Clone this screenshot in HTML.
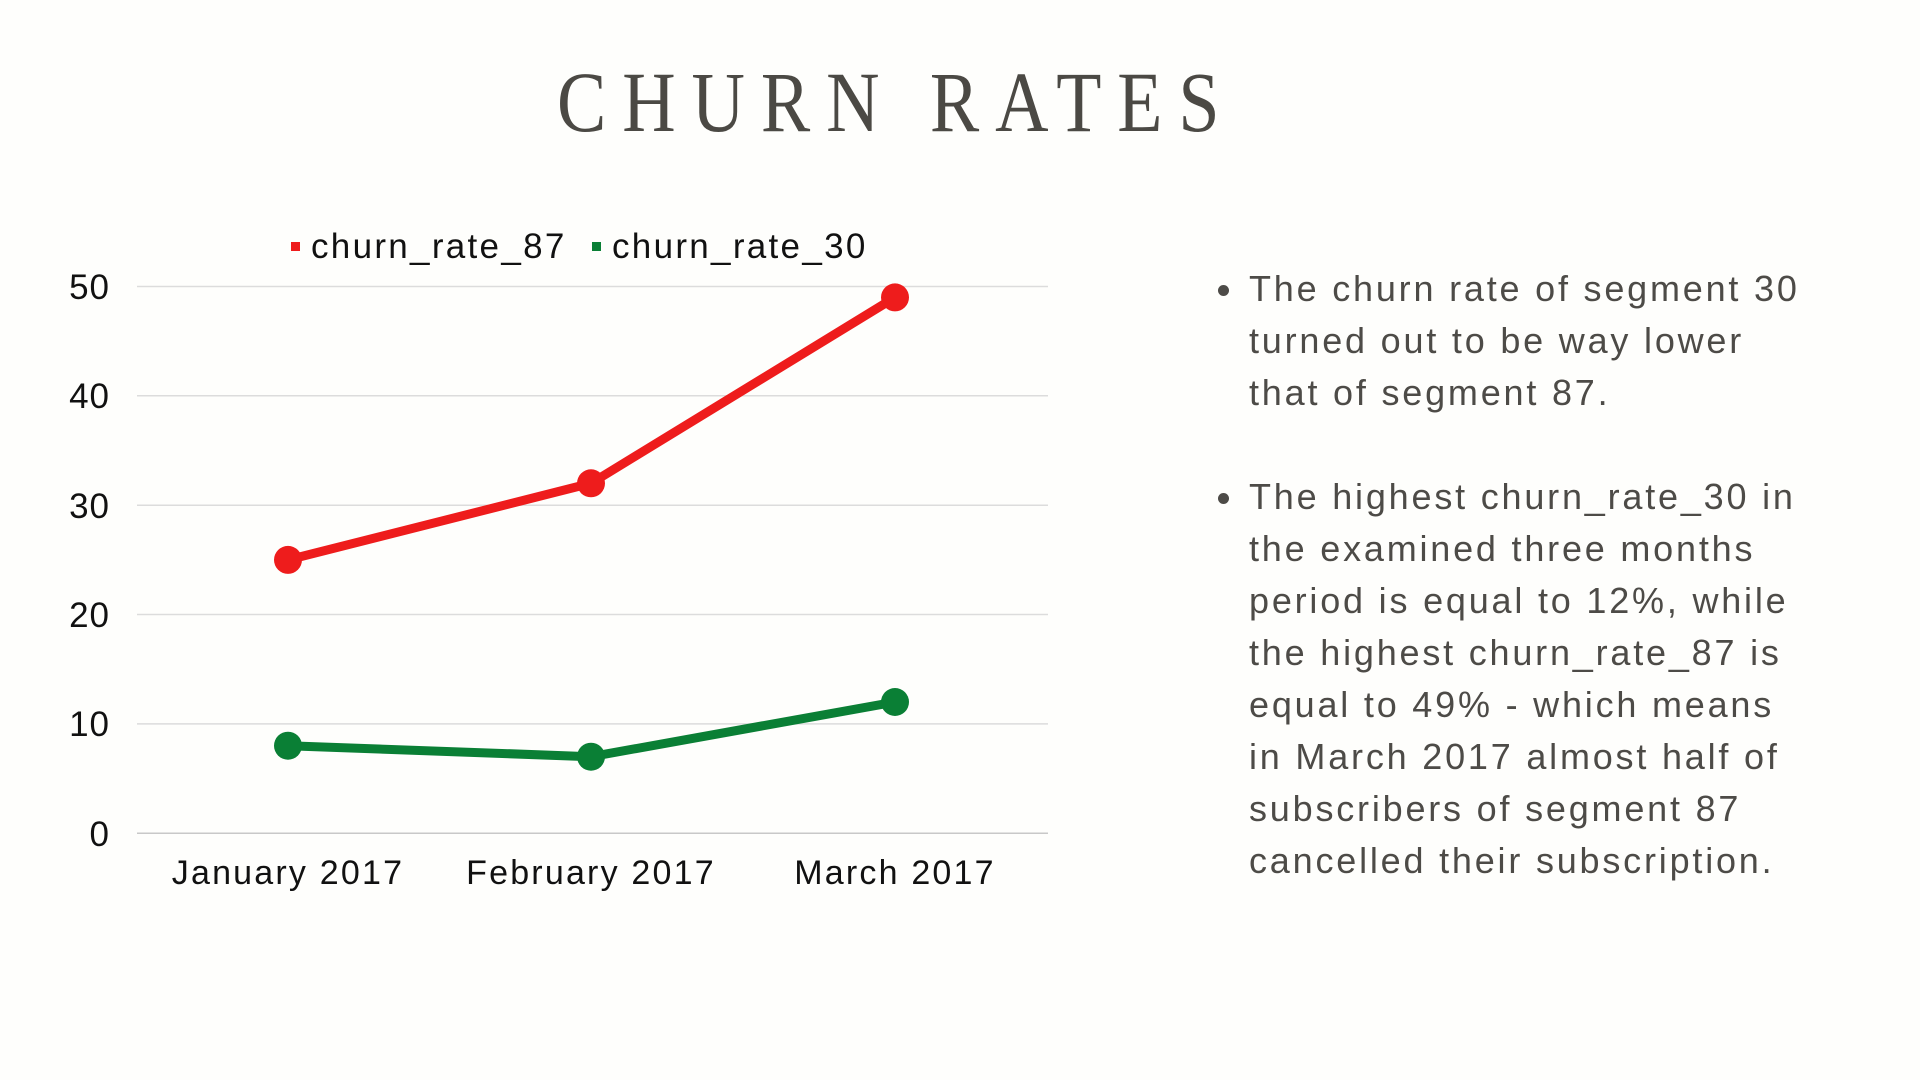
<!DOCTYPE html>
<html><head><meta charset="utf-8"><style>
body{margin:0;width:1920px;height:1080px;background:#fefefc;position:relative;overflow:hidden;font-family:"Liberation Sans",sans-serif}
.t{position:absolute;left:557px;top:52px;white-space:nowrap;font-family:"Liberation Serif",serif;font-size:86px;letter-spacing:18.5px;color:#4b4944;transform:scaleX(0.86);transform-origin:0 0}
.r{position:absolute;left:1249px;font-size:36px;color:#4d4b47;line-height:52px;width:680px;letter-spacing:2.8px;white-space:nowrap}
.b{position:absolute;left:1218px;width:11px;height:11px;border-radius:50%;background:#4d4b47}
</style></head><body>
<div class="t">CHURN RATES</div>
<svg width="1920" height="1080" style="position:absolute;left:0;top:0">
<g stroke="#dcdcdc" stroke-width="1.5">
<line x1="137" x2="1048" y1="286.5" y2="286.5"/><line x1="137" x2="1048" y1="395.8" y2="395.8"/>
<line x1="137" x2="1048" y1="505.2" y2="505.2"/><line x1="137" x2="1048" y1="614.5" y2="614.5"/>
<line x1="137" x2="1048" y1="723.9" y2="723.9"/></g>
<line x1="137" x2="1048" y1="833.2" y2="833.2" stroke="#c8c8c8" stroke-width="1.5"/>
<g font-family="Liberation Sans, sans-serif" font-size="35" fill="#111" text-anchor="end" letter-spacing="1">
<text x="110" y="299">50</text><text x="110" y="408">40</text><text x="110" y="518">30</text>
<text x="110" y="627">20</text><text x="110" y="736">10</text><text x="110" y="846">0</text></g>
<g font-family="Liberation Sans, sans-serif" font-size="34" fill="#111" text-anchor="middle" letter-spacing="2.2">
<text x="288" y="884">January 2017</text><text x="591" y="884">February 2017</text><text x="895" y="884">March 2017</text></g>
<polyline points="288,559.9 591,483.3 895,297.4" fill="none" stroke="#ee1c1c" stroke-width="9" stroke-linejoin="round"/>
<g fill="#ee1c1c"><circle cx="288" cy="559.9" r="14"/><circle cx="591" cy="483.3" r="14"/><circle cx="895" cy="297.4" r="14"/></g>
<polyline points="288,745.7 591,756.7 895,702" fill="none" stroke="#0a7f35" stroke-width="9" stroke-linejoin="round"/>
<g fill="#0a7f35"><circle cx="288" cy="745.7" r="14"/><circle cx="591" cy="756.7" r="14"/><circle cx="895" cy="702" r="14"/></g>
<rect x="291" y="242" width="9" height="9" fill="#ee1c1c"/><rect x="592" y="242" width="9" height="9" fill="#0a7f35"/>
<g font-family="Liberation Sans, sans-serif" font-size="35" fill="#111" letter-spacing="2.3">
<text x="311" y="258">churn_rate_87</text><text x="612" y="258">churn_rate_30</text></g>
</svg>
<div class="b" style="top:285px"></div>
<div class="r" style="top:263px">The churn rate of segment 30<br>turned out to be way lower<br>that of segment 87.</div>
<div class="b" style="top:493px"></div>
<div class="r" style="top:471px">The highest churn_rate_30 in<br>the examined three months<br>period is equal to 12%, while<br>the highest churn_rate_87 is<br>equal to 49% - which means<br>in March 2017 almost half of<br>subscribers of segment 87<br>cancelled their subscription.</div>
</body></html>
